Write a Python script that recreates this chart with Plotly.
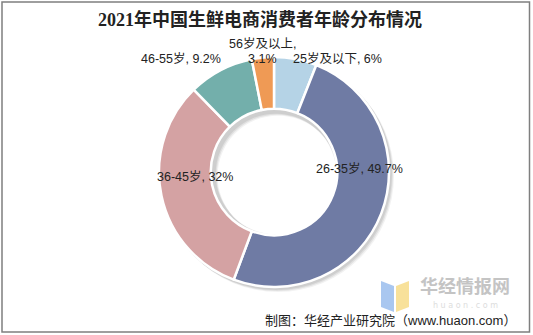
import plotly.graph_objects as go

# Age groups of online fresh-food shoppers, 2021 (share, %)
age_groups = ["25岁及以下", "26-35岁", "36-45岁", "46-55岁", "56岁及以上"]
shares = [6, 49.7, 32, 9.2, 3.1]
colors = ["#B5D3E6", "#6F7BA4", "#D4A2A3", "#73AFAB", "#EF9A55"]

W, H = 533, 335
cx, cy, R = 274, 172, 115  # donut centre and radius in px
hole = 0.55


def px_dom(x0, x1, y0, y1):
    return dict(x=[x0 / W, x1 / W], y=[1 - y1 / H, 1 - y0 / H])


fig = go.Figure()

# soft drop shadow under the ring
for off, alpha in [(4, 0.05), (3, 0.07), (2, 0.08)]:
    fig.add_trace(go.Pie(
        values=[1], labels=["shadow"], hole=hole - 0.03, sort=False,
        marker=dict(colors=[f"rgba(0,0,0,{alpha})"], line=dict(width=0)),
        textinfo="none", hoverinfo="skip", showlegend=False,
        domain=px_dom(cx - R + off - 1, cx + R + off + 1, cy - R + off - 1, cy + R + off + 1),
    ))

fig.add_trace(go.Pie(
    labels=age_groups, values=shares, hole=hole, sort=False,
    direction="clockwise", rotation=0,
    marker=dict(colors=colors, line=dict(color="white", width=2.5)),
    textinfo="none", showlegend=False,
    domain=px_dom(cx - R, cx + R, cy - R, cy + R),
))

label_font = dict(family="Liberation Sans, Noto Sans CJK SC, sans-serif", size=12.5, color="#222222")
lbl = [f"{a}, {v:g}%" for a, v in zip(age_groups, shares)]
# label anchor points (px) for each slice
label_pos = [
    (337, 59, lbl[0]),
    (359, 168, lbl[1]),
    (195, 176, lbl[2]),
    (181, 59, lbl[3]),
    (262, 43, f"{age_groups[4]},"),
    (262, 59, f"{shares[4]:g}%"),
]
annotations = []
for x, y, t in label_pos:
    annotations.append(dict(x=x / W, y=1 - y / H, xref="paper", yref="paper",
                            text=t, showarrow=False, font=label_font,
                            xanchor="center", yanchor="middle"))

# title
annotations.append(dict(
    x=260 / W, y=1 - 20 / H, xref="paper", yref="paper", showarrow=False,
    text="<b>2021年中国生鲜电商消费者年龄分布情况</b>",
    font=dict(family="Liberation Serif, Noto Sans CJK SC, serif", size=18, color="#222222"),
    xanchor="center", yanchor="middle"))

# watermark
annotations.append(dict(
    x=465 / W, y=1 - 285 / H, xref="paper", yref="paper", showarrow=False,
    text="<b>华经情报网</b>",
    font=dict(family="Noto Sans CJK SC, sans-serif", size=18, color="#C4C4C4"),
    xanchor="center", yanchor="middle"))
annotations.append(dict(
    x=465 / W, y=1 - 305 / H, xref="paper", yref="paper", showarrow=False,
    text="h u a o n . c o m",
    font=dict(family="DejaVu Sans, sans-serif", size=8, color="#DDDDDD"),
    xanchor="center", yanchor="middle"))

# source line
annotations.append(dict(
    x=518 / W, y=1 - 320 / H, xref="paper", yref="paper", showarrow=False,
    text="制图：华经产业研究院（www.huaon.com）",
    font=dict(family="Liberation Sans, Noto Sans CJK SC, sans-serif", size=13, color="#222222"),
    xanchor="right", yanchor="middle"))

shapes = [
    # outer frame
    dict(type="rect", xref="paper", yref="paper",
         x0=2 / W, x1=529.5 / W, y0=1 - 332 / H, y1=1 - 2 / H,
         line=dict(color="#7F7F7F", width=1.5), fillcolor="rgba(0,0,0,0)"),
    # watermark book icon
    dict(type="path", xref="paper", yref="paper",
         path=f"M {381/W},{1-281/H} L {394/W},{1-286/H} L {394/W},{1-312/H} L {381/W},{1-307/H} Z",
         fillcolor="rgba(140,180,235,0.75)", line=dict(width=0)),
    dict(type="path", xref="paper", yref="paper",
         path=f"M {396/W},{1-286/H} L {409/W},{1-281/H} L {409/W},{1-307/H} L {396/W},{1-312/H} Z",
         fillcolor="rgba(245,215,120,0.75)", line=dict(width=0)),
]

fig.update_layout(
    width=W, height=H, margin=dict(l=0, r=0, t=0, b=0),
    paper_bgcolor="white", plot_bgcolor="white",
    annotations=annotations, shapes=shapes,
)

fig.write_html("out.html")
